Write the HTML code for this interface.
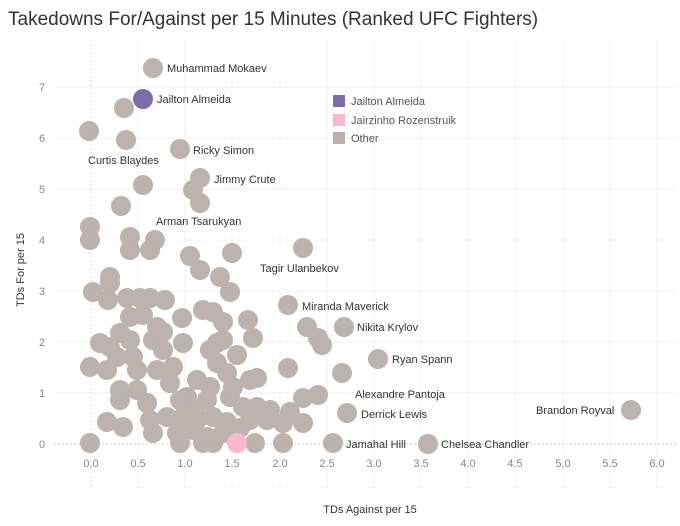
<!DOCTYPE html>
<html><head><meta charset="utf-8"><style>
html,body{margin:0;padding:0;background:#fff;}
body{width:680px;height:521px;overflow:hidden;font-family:"Liberation Sans",sans-serif;}
</style></head><body>
<svg width="680" height="521" xmlns="http://www.w3.org/2000/svg" font-family="Liberation Sans, sans-serif">
<text x="8" y="25" font-size="19" fill="#333">Takedowns For/Against per 15 Minutes (Ranked UFC Fighters)</text>
<g stroke="#f0f0f0" stroke-width="1">
<line x1="54" y1="393" x2="676" y2="393"/><line x1="54" y1="342" x2="676" y2="342"/><line x1="54" y1="291" x2="676" y2="291"/><line x1="54" y1="240" x2="676" y2="240"/><line x1="54" y1="189" x2="676" y2="189"/><line x1="54" y1="138" x2="676" y2="138"/><line x1="54" y1="87" x2="676" y2="87"/>
<line x1="138" y1="40" x2="138" y2="488"/><line x1="185" y1="40" x2="185" y2="488"/><line x1="232" y1="40" x2="232" y2="488"/><line x1="280" y1="40" x2="280" y2="488"/><line x1="327" y1="40" x2="327" y2="488"/><line x1="374" y1="40" x2="374" y2="488"/><line x1="421" y1="40" x2="421" y2="488"/><line x1="468" y1="40" x2="468" y2="488"/><line x1="515" y1="40" x2="515" y2="488"/><line x1="563" y1="40" x2="563" y2="488"/><line x1="610" y1="40" x2="610" y2="488"/><line x1="657" y1="40" x2="657" y2="488"/>
<line x1="54" y1="488" x2="676" y2="488"/>
</g>
<line x1="91" y1="40" x2="91" y2="488" stroke="#d8d8d8" stroke-dasharray="2,2"/>
<line x1="54" y1="444" x2="676" y2="444" stroke="#cfcfcf" stroke-dasharray="2,2"/>
<g font-size="11" fill="#888" text-anchor="middle">
<text x="42" y="448">0</text><text x="42" y="397">1</text><text x="42" y="346">2</text><text x="42" y="295">3</text><text x="42" y="244">4</text><text x="42" y="193">5</text><text x="42" y="142">6</text><text x="42" y="91">7</text>
<text x="91" y="467">0.0</text><text x="138" y="467">0.5</text><text x="185" y="467">1.0</text><text x="232" y="467">1.5</text><text x="280" y="467">2.0</text><text x="327" y="467">2.5</text><text x="374" y="467">3.0</text><text x="421" y="467">3.5</text><text x="468" y="467">4.0</text><text x="515" y="467">4.5</text><text x="563" y="467">5.0</text><text x="610" y="467">5.5</text><text x="657" y="467">6.0</text>
</g>
<text x="370" y="513" font-size="11" fill="#333" text-anchor="middle">TDs Against per 15</text>
<text transform="translate(24,270) rotate(-90)" font-size="11" fill="#333" text-anchor="middle">TDs For per 15</text>
<g fill="#bab0ac" opacity="0.97">
<circle cx="153" cy="68" r="10"/><circle cx="124" cy="108" r="10"/><circle cx="89" cy="131" r="10"/><circle cx="126" cy="140" r="10"/><circle cx="180" cy="149" r="10"/><circle cx="143" cy="185" r="10"/><circle cx="121" cy="206" r="10"/><circle cx="193" cy="190" r="10"/><circle cx="200" cy="203" r="10"/><circle cx="200" cy="178" r="10"/>
<circle cx="90" cy="227" r="10"/><circle cx="90" cy="240" r="10"/><circle cx="130" cy="237" r="10"/><circle cx="130" cy="250" r="10"/><circle cx="155" cy="240" r="10"/><circle cx="150" cy="250" r="10"/><circle cx="190" cy="256" r="10"/><circle cx="232" cy="253" r="10"/><circle cx="303" cy="248" r="10"/>
<circle cx="200" cy="270" r="10"/><circle cx="220" cy="277" r="10"/><circle cx="230" cy="292" r="10"/><circle cx="110" cy="277" r="10"/><circle cx="110" cy="283" r="10"/><circle cx="93" cy="292" r="10"/><circle cx="108" cy="300" r="10"/><circle cx="127" cy="298" r="10"/><circle cx="140" cy="298" r="10"/><circle cx="150" cy="298" r="10"/><circle cx="165" cy="300" r="10"/><circle cx="130" cy="317" r="10"/><circle cx="143" cy="315" r="10"/><circle cx="182" cy="318" r="10"/><circle cx="203" cy="310" r="10"/><circle cx="213" cy="312" r="10"/><circle cx="223" cy="322" r="10"/><circle cx="248" cy="320" r="10"/><circle cx="253" cy="338" r="10"/><circle cx="288" cy="305" r="10"/><circle cx="307" cy="327" r="10"/><circle cx="318" cy="338" r="10"/><circle cx="322" cy="345" r="10"/><circle cx="344" cy="327" r="10"/>
<circle cx="157" cy="327" r="10"/><circle cx="163" cy="332" r="10"/><circle cx="120" cy="333" r="10"/><circle cx="130" cy="340" r="10"/><circle cx="100" cy="343" r="10"/><circle cx="110" cy="347" r="10"/><circle cx="153" cy="340" r="10"/><circle cx="183" cy="343" r="10"/><circle cx="217" cy="343" r="10"/><circle cx="223" cy="340" r="10"/><circle cx="210" cy="350" r="10"/><circle cx="237" cy="355" r="10"/><circle cx="163" cy="350" r="10"/><circle cx="117" cy="357" r="10"/><circle cx="133" cy="357" r="10"/><circle cx="90" cy="367" r="10"/><circle cx="107" cy="370" r="10"/><circle cx="137" cy="370" r="10"/><circle cx="157" cy="370" r="10"/><circle cx="173" cy="367" r="10"/><circle cx="170" cy="383" r="10"/><circle cx="217" cy="363" r="10"/><circle cx="227" cy="373" r="10"/><circle cx="288" cy="368" r="10"/><circle cx="342" cy="373" r="10"/><circle cx="378" cy="359" r="10"/>
<circle cx="120" cy="390" r="10"/><circle cx="137" cy="390" r="10"/><circle cx="197" cy="380" r="10"/><circle cx="210" cy="387" r="10"/><circle cx="233" cy="387" r="10"/><circle cx="250" cy="380" r="10"/><circle cx="257" cy="378" r="10"/><circle cx="303" cy="398" r="10"/><circle cx="318" cy="395" r="10"/><circle cx="120" cy="400" r="10"/><circle cx="147" cy="403" r="10"/><circle cx="187" cy="397" r="10"/><circle cx="207" cy="400" r="10"/><circle cx="230" cy="397" r="10"/><circle cx="243" cy="407" r="10"/><circle cx="257" cy="407" r="10"/><circle cx="270" cy="410" r="10"/><circle cx="290" cy="412" r="10"/><circle cx="347" cy="413" r="10"/><circle cx="631" cy="410" r="10"/><circle cx="180" cy="400" r="10"/><circle cx="195" cy="410" r="10"/>
<circle cx="107" cy="422" r="10"/><circle cx="123" cy="427" r="10"/><circle cx="150" cy="420" r="10"/><circle cx="167" cy="417" r="10"/><circle cx="183" cy="417" r="10"/><circle cx="197" cy="420" r="10"/><circle cx="213" cy="417" r="10"/><circle cx="227" cy="422" r="10"/><circle cx="250" cy="420" r="10"/><circle cx="267" cy="420" r="10"/><circle cx="283" cy="423" r="10"/><circle cx="303" cy="423" r="10"/><circle cx="153" cy="433" r="10"/><circle cx="177" cy="433" r="10"/><circle cx="193" cy="430" r="10"/><circle cx="207" cy="437" r="10"/><circle cx="223" cy="433" r="10"/><circle cx="240" cy="428" r="10"/>
<circle cx="90" cy="443" r="10"/><circle cx="180" cy="443" r="10"/><circle cx="203" cy="443" r="10"/><circle cx="213" cy="443" r="10"/><circle cx="255" cy="443" r="10"/><circle cx="283" cy="443" r="10"/><circle cx="333" cy="443" r="10"/><circle cx="428" cy="444" r="10"/>
</g>
<circle cx="143" cy="99" r="10" fill="#7b6ea8"/>
<circle cx="237" cy="443" r="10" fill="#f6b9cd"/>
<g font-size="11" fill="#333">
<text x="167" y="72">Muhammad Mokaev</text><text x="157" y="103">Jailton Almeida</text><text x="193" y="154">Ricky Simon</text><text x="88" y="164">Curtis Blaydes</text><text x="214" y="183">Jimmy Crute</text><text x="156" y="225">Arman Tsarukyan</text><text x="260" y="272">Tagir Ulanbekov</text><text x="302" y="310">Miranda Maverick</text><text x="357" y="331">Nikita Krylov</text><text x="392" y="363">Ryan Spann</text><text x="355" y="398">Alexandre Pantoja</text><text x="361" y="418">Derrick Lewis</text><text x="346" y="448">Jamahal Hill</text><text x="441" y="448">Chelsea Chandler</text><text x="536" y="414">Brandon Royval</text>
</g>
<rect x="333" y="95" width="12" height="12" fill="#7b6ea8"/><rect x="333" y="114" width="12" height="12" fill="#f6b9cd"/><rect x="333" y="132" width="12" height="12" fill="#bab0ac"/>
<g font-size="11" fill="#555"><text x="351" y="105">Jailton Almeida</text><text x="351" y="124">Jairzinho Rozenstruik</text><text x="351" y="142">Other</text></g>
</svg>
</body></html>
